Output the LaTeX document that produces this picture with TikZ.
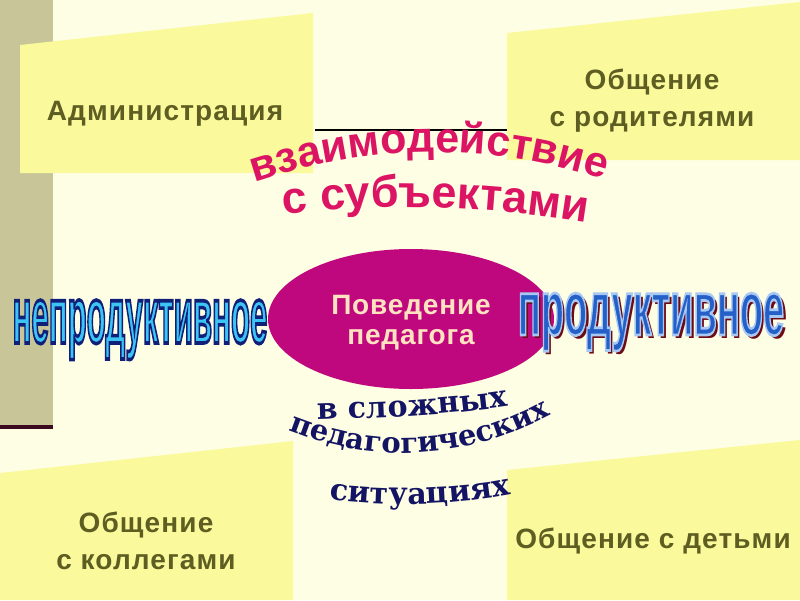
\documentclass[tikz,border=0pt]{standalone}
\usepackage{fontspec}
\setmainfont{Liberation Sans}
\newfontfamily\arcserif{DejaVu Serif}
\usetikzlibrary{positioning,decorations.text}

\definecolor{bgcream}{HTML}{FEFEE4}
\definecolor{boxyellow}{HTML}{FAFA9C}
\definecolor{barkhaki}{HTML}{C8C698}
\definecolor{barline}{HTML}{3A0A1E}
\definecolor{labelolive}{HTML}{5E5E22}
\definecolor{ovalmagenta}{HTML}{C0087E}
\definecolor{ovaltext}{HTML}{FFE2C0}
\definecolor{arcpink}{HTML}{DC1464}
\definecolor{arcnavy}{HTML}{141464}
\definecolor{prodshadow}{HTML}{6E0A14}

\tikzset{
  boxshape/.style={fill=boxyellow, draw=none},
  boxlabel/.style={text=labelolive, align=center,
    font=\fontsize{28}{37}\selectfont\bfseries\addfontfeatures{LetterSpace=4}},
  ovallabel/.style={text=ovaltext, align=center,
    font=\fontsize{28}{30}\selectfont\bfseries\addfontfeatures{LetterSpace=3}},
  wordart/.style={inner sep=0pt, font=\fontsize{40}{40}\selectfont\bfseries},
}

% fill colour, stroke colour, stroke width, text
\newcommand{\strokedword}[4]{\special{pdf:bc [#1]}%
  \special{pdf:literal direct #2 RG #3 w 2 Tr}#4%
  \special{pdf:literal direct 0 Tr 0.4 w}\special{pdf:ec}}
\newcommand{\prodword}[1]{\scalebox{0.95}[1.95]{#1}}
\newcommand{\nepword}[1]{\scalebox{0.78}[2.0]{#1}}

\begin{document}
\begin{tikzpicture}[x=1pt, y=-1pt]
  \useasboundingbox (0,0) rectangle (800,600);
  \fill[bgcream] (0,0) rectangle (800,600);
  % left bar
  \fill[barkhaki] (0,0) rectangle (53,427);
  \draw[barline, line width=4pt] (0,427) -- (53,427);

  % yellow boxes
  \fill[boxshape] (20,45) -- (313,13) -- (313,173) -- (20,173) -- cycle;
  \fill[boxshape] (507,33) -- (800,2) -- (800,160) -- (507,160) -- cycle;
  \fill[boxshape] (0,473) -- (293,441) -- (293,600) -- (0,600) -- cycle;
  \fill[boxshape] (507,470) -- (800,440) -- (800,600) -- (507,600) -- cycle;
  \coordinate (rulel) at (315,130);
  \coordinate (ruler) at (507,130);
  \draw[line width=1.6pt] (rulel) -- (ruler);

  % oval
  \fill[ovalmagenta] (411,319) ellipse [x radius=143, y radius=70];
  \node[ovallabel] (behav) at (411,323) {Поведение\\педагога};

  \node[boxlabel, anchor=base] (admin) at (165,120) {Администрация};
  \node[boxlabel] (parents) at (652,101) {Общение\\с родителями};
  \node[boxlabel] (colleag) at (146,541) {Общение\\с коллегами};
  \node[boxlabel, anchor=base] (kids) at (653,548) {Общение с детьми};

  % arched captions
  \path[decorate, decoration={text along path, text align=center,
      text color=arcpink, text={|\fontsize{43}{43}\selectfont\bfseries|взаимодействие}}]
    (250,184) .. controls (370,143) and (489,142) .. (609,181);
  \path[decorate, decoration={text along path, text align=center,
      text color=arcpink, text={|\fontsize{45}{45}\selectfont\bfseries|с субъектами}}]
    (286,214) .. controls (386,203) and (484,206) .. (584,222);
  \path[decorate, decoration={text along path, text align=center,
      text color=arcnavy, text={|\fontsize{30}{30}\selectfont\arcserif\bfseries|в сложных}}]
    (310,420) .. controls (375,418) and (445,416) .. (515,405);
  \path[decorate, decoration={text along path, text align=center,
      text color=arcnavy, text={|\fontsize{29}{29}\selectfont\arcserif\bfseries|педагогических}}]
    (268,421) .. controls (368,468) and (470,464) .. (570,404);
  \path[decorate, decoration={text along path, text align=center,
      text color=arcnavy, text={|\fontsize{30}{30}\selectfont\arcserif\bfseries|ситуациях}}]
    (316,498) .. controls (384,507) and (454,507) .. (524,492);

  % word art
  \node[wordart, anchor=base, text=prodshadow] (prodsh) at (654,338) {\prodword{продуктивное}};
  \node[wordart, anchor=base] (prod) at (651,335)
    {\prodword{\strokedword{0.141 0.376 0.784}{0.659 0.784 0.957}{1.4}{продуктивное}}};
  \node[wordart, anchor=base] (nep) at (140,343)
    {\nepword{\strokedword{0.235 0.769 0.957}{0.063 0.125 0.471}{1.8}{непродуктивное}}};
\end{tikzpicture}
\end{document}
